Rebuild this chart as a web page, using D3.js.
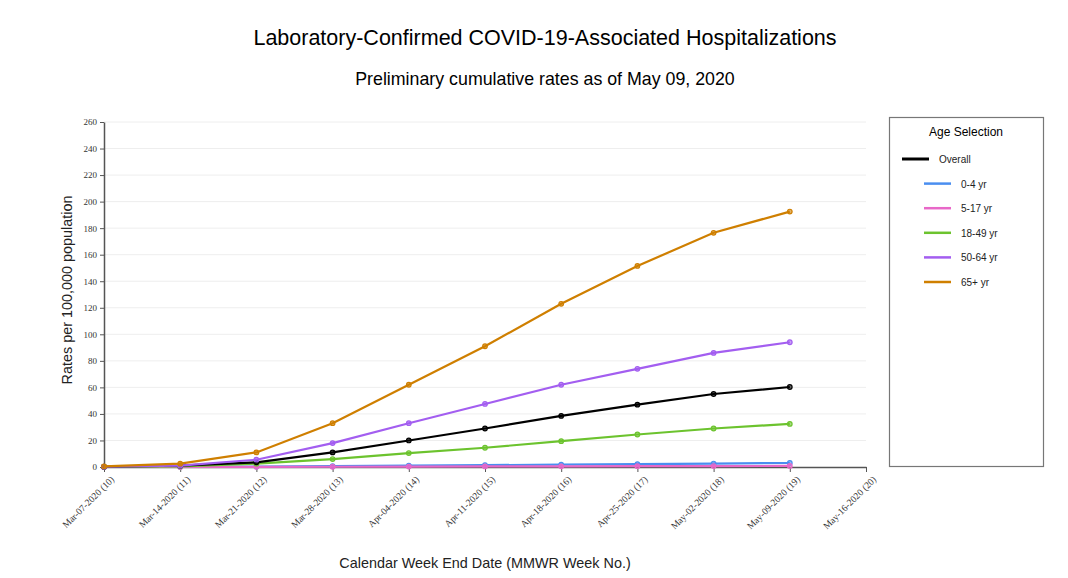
<!DOCTYPE html>
<html>
<head>
<meta charset="utf-8">
<script src="https://cdn.jsdelivr.net/npm/d3@7"></script>
<style>
  body { margin: 0; background: #fff; }
  svg { font-family: "Liberation Sans", Arial, sans-serif; }
</style>
</head>
<body>
<div id="chart"></div>
<script>
// week labels on the x axis
const weeks = ["Mar-07-2020 (10)", "Mar-14-2020 (11)", "Mar-21-2020 (12)", "Mar-28-2020 (13)",
  "Apr-04-2020 (14)", "Apr-11-2020 (15)", "Apr-18-2020 (16)", "Apr-25-2020 (17)",
  "May-02-2020 (18)", "May-09-2020 (19)", "May-16-2020 (20)"];

const yTicks = d3.range(0, 261, 20);

// series names and colours
const seriesNames = ["Overall", "0-4 yr", "5-17 yr", "18-49 yr", "50-64 yr", "65+ yr"];
const seriesColors = ["#000000", "#4a8ef0", "#e868c8", "#6cc32e", "#a35ef0", "#cf7f00"];

// cumulative rates (one per week through week 19)
const overall = [0.2, 1.0, 3.5, 11, 20, 29, 38.5, 47, 55, 60.3];
const age0to4 = [0, 0.1, 0.3, 0.6, 1.0, 1.4, 1.8, 2.2, 2.6, 3.0];
const age5to17 = [0, 0, 0.1, 0.2, 0.3, 0.4, 0.5, 0.6, 0.7, 0.8];
const age18to49 = [0.1, 0.5, 2.5, 6, 10.5, 14.5, 19.5, 24.5, 29, 32.5];
const age50to64 = [0.2, 1.0, 5.5, 18, 33, 47.5, 62, 74, 86, 94];
const age65plus = [0.5, 2.5, 11, 33, 62, 91, 123, 151.5, 176.5, 192.5];

const seriesValues = [overall, age0to4, age5to17, age18to49, age50to64, age65plus];

const width = 1068, height = 578;
const svg = d3.select("#chart").append("svg")
  .attr("width", width)
  .attr("height", height);

const x = d3.scalePoint()
  .domain(weeks)
  .range([104, 866]);

const y = d3.scaleLinear()
  .domain([0, 260])
  .range([467, 122]);

// gridlines
svg.append("g")
  .selectAll("line")
  .data(yTicks.filter(d => d > 0))
  .enter()
  .append("line")
  .attr("x1", 104)
  .attr("x2", 866)
  .attr("y1", d => y(d))
  .attr("y2", d => y(d))
  .attr("stroke", "#eeeeee")
  .attr("stroke-width", 1);

// axes
const yAxis = svg.append("g")
  .attr("transform", "translate(104,0)")
  .call(d3.axisLeft(y).tickValues(yTicks).tickSize(4).tickSizeOuter(0));
yAxis.selectAll("text")
  .attr("font-family", "'Liberation Serif', 'Times New Roman', serif")
  .attr("font-size", 9)
  .attr("fill", "#333");

const xAxis = svg.append("g")
  .attr("transform", "translate(0,467)")
  .call(d3.axisBottom(x).tickSize(5).tickSizeOuter(0));
xAxis.selectAll("text")
  .attr("font-family", "'Liberation Serif', 'Times New Roman', serif")
  .attr("font-size", 9.5)
  .attr("fill", "#333")
  .attr("text-anchor", "end")
  .attr("dx", "-0.2em")
  .attr("dy", "0.9em")
  .attr("transform", "rotate(-45)");

svg.selectAll(".domain").attr("stroke", "#555").attr("stroke-width", 1.5);
svg.selectAll(".tick line").attr("stroke", "#555");

// lines, drawn from the back (0-4) so overall sits on top of small values
const line = d3.line()
  .x((d, i) => x(weeks[i]))
  .y(d => y(d));

const order = [1, 2, 3, 0, 4, 5];
order.forEach(k => {
  const g = svg.append("g");
  g.append("path")
    .datum(seriesValues[k])
    .attr("fill", "none")
    .attr("stroke", seriesColors[k])
    .attr("stroke-width", 2.2)
    .attr("d", line);
  g.selectAll("circle")
    .data(seriesValues[k])
    .enter()
    .append("circle")
    .attr("cx", (d, i) => x(weeks[i]))
    .attr("cy", d => y(d))
    .attr("r", 2.3)
    .attr("fill", seriesColors[k])
    .attr("fill-opacity", 0.6)
    .attr("stroke", seriesColors[k])
    .attr("stroke-width", 1.2);
});

// titles
svg.append("text")
  .attr("x", 545)
  .attr("y", 45)
  .attr("text-anchor", "middle")
  .attr("font-size", 21.5)
  .text("Laboratory-Confirmed COVID-19-Associated Hospitalizations");

svg.append("text")
  .attr("x", 545)
  .attr("y", 85)
  .attr("text-anchor", "middle")
  .attr("font-size", 17.8)
  .text("Preliminary cumulative rates as of May 09, 2020");

svg.append("text")
  .attr("x", 485)
  .attr("y", 568)
  .attr("text-anchor", "middle")
  .attr("font-size", 14.4)
  .attr("fill", "#222")
  .text("Calendar Week End Date (MMWR Week No.)");

svg.append("text")
  .attr("transform", "translate(72,290) rotate(-90)")
  .attr("text-anchor", "middle")
  .attr("font-size", 14.4)
  .attr("fill", "#222")
  .text("Rates per 100,000 population");

// legend
const legend = svg.append("g");
legend.append("rect")
  .attr("x", 889.5)
  .attr("y", 117.5)
  .attr("width", 154)
  .attr("height", 349)
  .attr("fill", "#fff")
  .attr("stroke", "#777")
  .attr("stroke-width", 1.2);

legend.append("text")
  .attr("x", 966)
  .attr("y", 136)
  .attr("text-anchor", "middle")
  .attr("font-size", 12)
  .text("Age Selection");

seriesNames.forEach((name, i) => {
  const yy = 159 + i * 24.6;
  const x0 = i === 0 ? 902 : 924;
  legend.append("line")
    .attr("x1", x0)
    .attr("x2", x0 + 27)
    .attr("y1", yy)
    .attr("y2", yy)
    .attr("stroke", seriesColors[i])
    .attr("stroke-width", i === 0 ? 3 : 2.5);
  legend.append("text")
    .attr("x", i === 0 ? 939 : 961)
    .attr("y", yy + 4)
    .attr("font-size", 10)
    .attr("fill", "#222")
    .text(name);
});
</script>
</body>
</html>
